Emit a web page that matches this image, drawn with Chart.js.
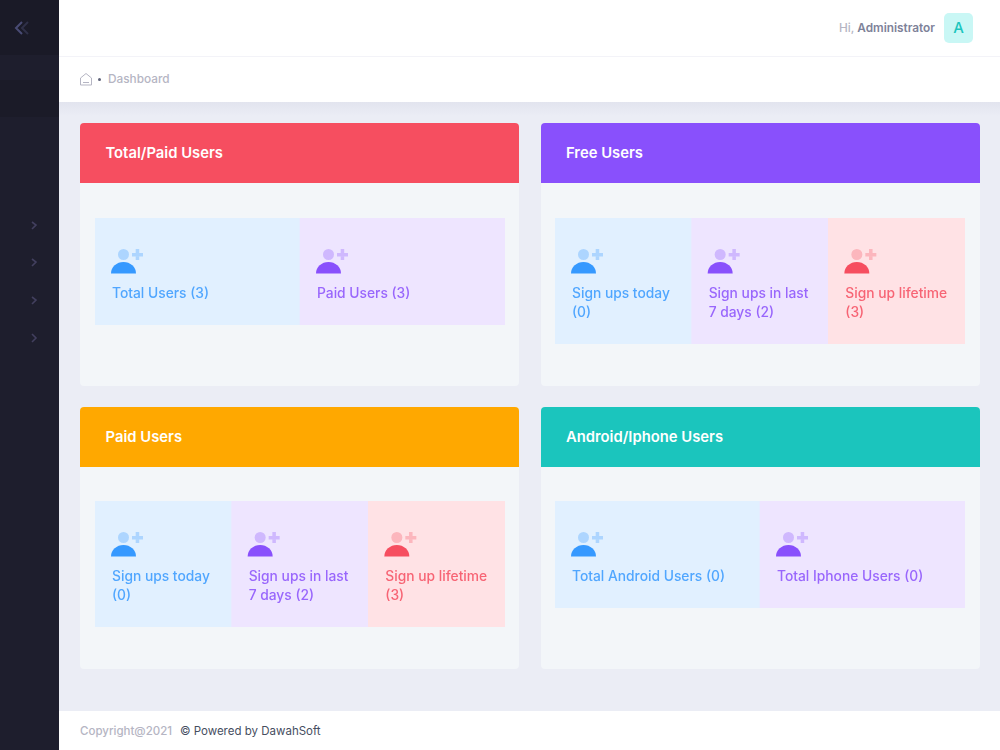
<!DOCTYPE html>
<html>
<head>
<meta charset="utf-8">
<title>Dashboard</title>
<script src="https://cdn.jsdelivr.net/npm/chart.js@4"></script>
<style>
  html, body { margin: 0; padding: 0; width: 1000px; height: 750px; overflow: hidden; background: #ebedf5; font-family: Inter, "Noto Sans", sans-serif; }
  .box { position: absolute; }
  #sidebar { left: 0; top: 0; width: 59px; height: 750px; background: #1e1e2d; }
  #sideTop { left: 0; top: 0; width: 59px; height: 55px; background: #1a1a27; }
  #sideActive { left: 0; top: 80px; width: 59px; height: 37px; background: #1b1b28; }
  #header { left: 59px; top: 0; width: 941px; height: 56px; background: #fff; border-bottom: 1px solid #f3f3f8; }
  #crumbs { left: 59px; top: 57px; width: 941px; height: 45px; background: #fff; }
  #shade { left: 59px; top: 102px; width: 941px; height: 14px; background: linear-gradient(#e2e4ee, #ebedf5); }
  #footer { left: 59px; top: 711px; width: 941px; height: 39px; background: #fff; }
  .card { position: absolute; width: 439px; background: #f3f6f9; border-radius: 4px; overflow: hidden; }
  .card h3 { margin: 0; height: 60px; line-height: 61px; padding-left: 25.5px; color: #fff; font-size: 14.8px; font-weight: 600; }
  canvas { position: absolute; display: block; }
  .txt { position: absolute; white-space: nowrap; font-size: 11.8px; font-weight: 500; color: #b5b5c3; }
</style>
</head>
<body>
<div class="box" id="sidebar"></div>
<div class="box" id="sideTop"></div>
<div class="box" id="sideActive"></div>
<svg class="box" style="left:0;top:0" width="59" height="350" fill="none" stroke-width="2">
  <path d="M22 22 L16 28 L22 34" stroke="#494b74"/>
  <path d="M28 22 L22 28 L28 34" stroke="#2f3048"/>
  <g stroke-width="1.6">
    <path d="M32 222 L36 225 L32 229" stroke="#423f5e"/>
    <path d="M32 259 L36 262 L32 266" stroke="#423f5e"/>
    <path d="M32 297 L36 300 L32 304" stroke="#423f5e"/>
    <path d="M32 334 L36 338 L32 342" stroke="#423f5e"/>
  </g>
</svg>
<div class="box" id="header"></div>
<div class="box" id="crumbs"></div>
<div class="box" id="shade"></div>
<div class="box" id="footer"></div>

<div class="txt" style="right:65px;top:21px"><span>Hi, </span><span style="color:#7e8299;font-weight:600">Administrator</span></div>
<div class="box" style="left:944px;top:13px;width:29px;height:30px;border-radius:5px;background:#c9f7f5;color:#1bc5bd;font-size:15px;font-weight:500;line-height:30px;text-align:center">A</div>

<svg class="box" style="left:78px;top:71px" width="16" height="16" fill="none" stroke="#b5b5c3" stroke-width="1">
  <path d="M2.5 14 L2.5 7 L8 2.5 L13.5 7 L13.5 14 Z"/>
  <path d="M5 11.5 L11 11.5"/>
</svg>
<div class="box" style="left:98px;top:78px;width:3px;height:3px;border-radius:50%;background:#5e6278"></div>
<div class="txt" style="left:108px;top:72px">Dashboard</div>

<div class="txt" style="left:80px;top:724px;font-size:11.5px">Copyright@2021</div>
<div class="txt" style="left:180px;top:724px;font-size:11.5px;color:#464e5f;font-weight:400">© Powered by DawahSoft</div>

<div class="card" id="card0" style="left:80px;top:123px;height:263px"></div>
<div class="card" id="card1" style="left:541px;top:123px;height:263px"></div>
<div class="card" id="card2" style="left:80px;top:407px;height:262px"></div>
<div class="card" id="card3" style="left:541px;top:407px;height:262px"></div>

<script>
// Titulos de cada tarjeta
const cardTitles = ['Total/Paid Users', 'Free Users', 'Paid Users', 'Android/Iphone Users'];
const cardColors = ['#f64e60', '#8950fc', '#ffa800', '#1bc5bd'];

// Categorias y valores de cada tarjeta
const totalPaidLabels = ['Total Users', 'Paid Users'];
const totalPaidCounts = [3, 3];
const freeLabels = ['Sign ups today', 'Sign ups in last 7 days', 'Sign up lifetime'];
const freeCounts = [0, 2, 3];
const paidLabels = ['Sign ups today', 'Sign ups in last 7 days', 'Sign up lifetime'];
const paidCounts = [0, 2, 3];
const deviceLabels = ['Total Android Users', 'Total Iphone Users'];
const deviceCounts = [0, 0];

const tileFill = ['#e1f0ff', '#eee5ff', '#ffe2e5'];
const tileInk = ['#3699ff', '#8950fc', '#f64e60'];
const tileInkSoft = ['rgba(54,153,255,0.3)', 'rgba(137,80,252,0.3)', 'rgba(246,78,96,0.3)'];

// Parte el texto en lineas segun el ancho de la celda
const wrapText = (ctx, text, maxWidth) => {
    let lines = [];
    let line = '';
    text.split(' ').forEach((word) => {
        let next = line ? line + ' ' + word : word;
        if (ctx.measureText(next).width > maxWidth && line) {
            lines.push(line);
            line = word;
        } else {
            line = next;
        }
    });
    lines.push(line);
    return lines;
};

const drawIcon = (ctx, x, y, i) => {
    ctx.fillStyle = tileInkSoft[i];
    ctx.beginPath();
    ctx.arc(x + 12.5, y + 5.5, 5.5, 0, Math.PI * 2);
    ctx.fill();
    ctx.fillRect(x + 21, y + 4, 11, 3.5);
    ctx.fillRect(x + 24.7, y, 3.5, 4);
    ctx.fillRect(x + 24.7, y + 7.5, 3.5, 3.5);
    ctx.fillStyle = tileInk[i];
    ctx.beginPath();
    ctx.ellipse(x + 12.5, y + 24.5, 12.5, 11.5, 0, Math.PI, 0);
    ctx.closePath();
    ctx.fill();
};

// Dibuja icono y texto sobre cada celda, tomando la posicion de la barra
const tileContent = {
    id: 'tileContent',
    afterDatasetsDraw(chart) {
        let ctx = chart.ctx;
        let counts = chart.data.counts;
        chart.getDatasetMeta(0).data.forEach((bar, i) => {
            let left = bar.x - bar.width / 2;
            drawIcon(ctx, left + 16, 31, i);
            ctx.save();
            ctx.font = '500 13.8px Inter, "Noto Sans", sans-serif';
            ctx.fillStyle = tileInk[i];
            ctx.globalAlpha = 0.85;
            ctx.textBaseline = 'middle';
            let text = chart.data.labels[i] + ' (' + counts[i] + ')';
            wrapText(ctx, text, bar.width - 34).forEach((line, n) => {
                ctx.fillText(line, left + 17, 76 + n * 18.5);
            });
            ctx.restore();
        });
    }
};

const plot = (cardIndex, labels, counts, top, left, height) => {
    let card = document.getElementById('card' + cardIndex);
    let title = document.createElement('h3');
    title.textContent = cardTitles[cardIndex];
    title.style.background = cardColors[cardIndex];
    if (cardIndex % 2 == 1) {
        title.style.paddingLeft = '25px';
    }
    card.appendChild(title);

    let canvas = document.createElement('canvas');
    canvas.width = 410;
    canvas.height = height;
    canvas.style.left = left + 'px';
    canvas.style.top = top + 'px';
    card.appendChild(canvas);

    new Chart(canvas.getContext('2d'), {
        type: 'bar',
        data: {
            labels: labels,
            counts: counts,
            datasets: [{
                data: labels.map(() => 1),
                backgroundColor: tileFill,
                categoryPercentage: 1,
                barPercentage: 1,
                borderWidth: 0
            }]
        },
        options: {
            responsive: false,
            maintainAspectRatio: false,
            animation: false,
            layout: { padding: 0 },
            plugins: { legend: { display: false }, tooltip: { enabled: false } },
            scales: {
                x: { display: false },
                y: { display: false, min: 0, max: 1 }
            }
        },
        plugins: [tileContent]
    });
};

plot(0, totalPaidLabels, totalPaidCounts, 95, 15, 107);
plot(1, freeLabels, freeCounts, 95, 14, 126);
plot(2, paidLabels, paidCounts, 94, 15, 126);
plot(3, deviceLabels, deviceCounts, 94, 14, 107);
</script>
</body>
</html>
